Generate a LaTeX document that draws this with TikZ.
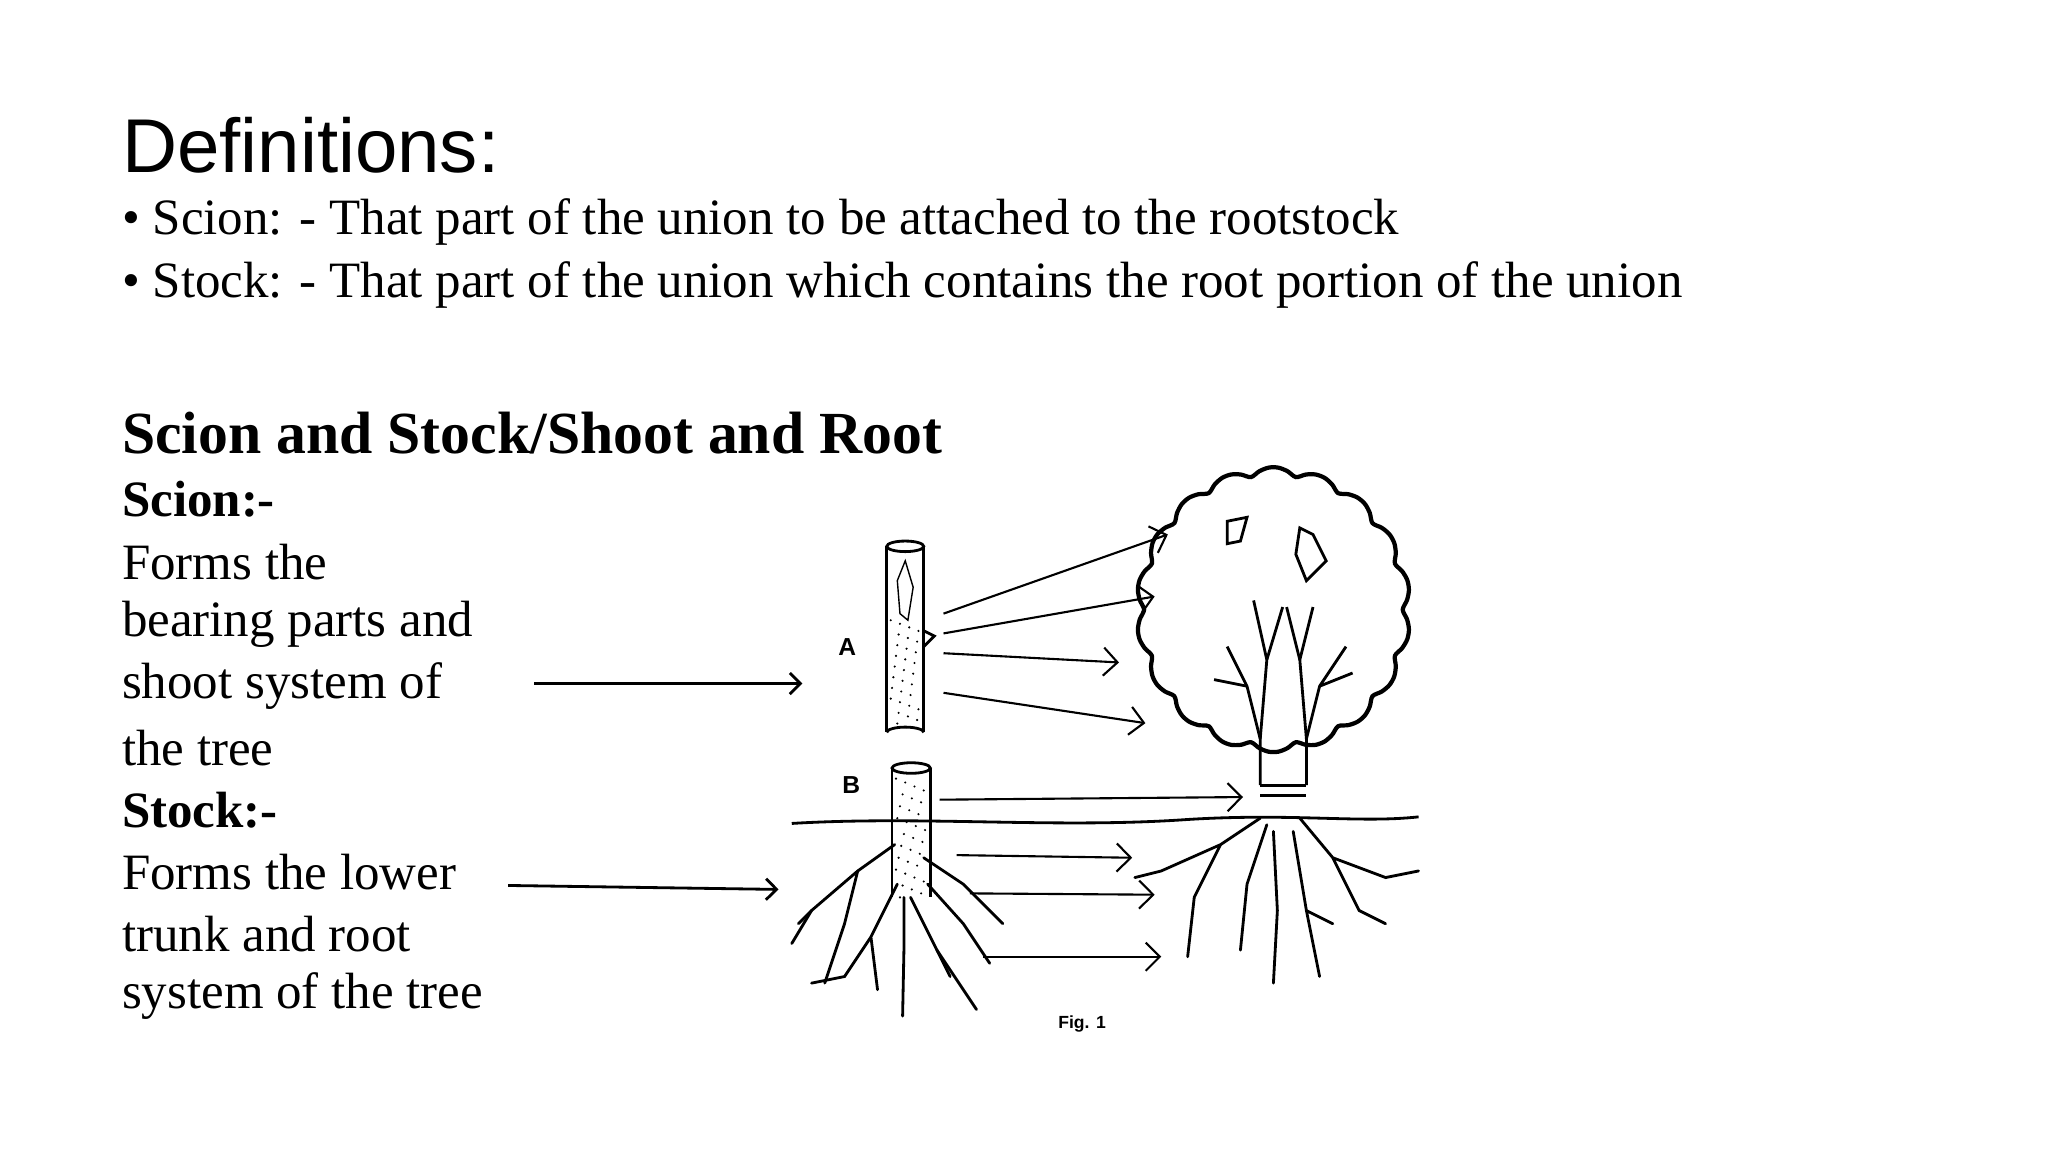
\documentclass[tikz,border=0pt]{standalone}
\usepackage{fontspec}
\setmainfont{Liberation Serif}
\newfontfamily\headfont{Liberation Sans}
\usetikzlibrary{positioning, arrows.meta}

\begin{document}
\begin{tikzpicture}[x=0.0132cm, y=-0.0132cm]
\tikzstyle{body}=[anchor=west, inner sep=0pt, font=\fontsize{14.5}{17}\selectfont]
\tikzstyle{connect}=[-{Straight Barb[length=3pt]}, thick]
\tikzstyle{thin}=[-{Straight Barb[length=4pt]}, semithick]
\tikzstyle{root}=[thick, line cap=round]
    \useasboundingbox (0,0) rectangle (1552,873);
    % text
    \node[anchor=west, inner sep=0pt, font=\headfont\fontsize{21.7}{25}\selectfont] (title) at (92,110) {Definitions:};
    \node[body] (def1) at (92,168) {\textbullet{} Scion: - That part of the union to be attached to the rootstock};
    \node[body] (def2) at (92,216) {\textbullet{} Stock: - That part of the union which contains the root portion of the union};
    \node[body, font=\bfseries\fontsize{17}{20}\selectfont] (head) at (92,328) {Scion and Stock/Shoot and Root};
    \node[body, font=\bfseries\fontsize{14.5}{17}\selectfont] (sc) at (92,378) {Scion:-};
    \node[body] (s1) at (92,426) {Forms the};
    \node[body] (s2) at (92,473) {bearing parts and};
    \node[body] (s3) at (92,520) {shoot system of};
    \node[body] (s4) at (92,567) {the tree};
    \node[body, font=\bfseries\fontsize{14.5}{17}\selectfont] (st) at (92,614) {Stock:-};
    \node[body] (t1) at (92,661) {Forms the lower};
    \node[body] (t2) at (92,708) {trunk and root};
    \node[body] (t3) at (92,755) {system of the tree};
    \coordinate (a1) at (405,518); \coordinate (a2) at (608,518);
    \coordinate (b1) at (385,671); \coordinate (b2) at (590,674);
    \draw[connect] (a1) -- (a2);
    \draw[connect] (b1) -- (b2);
    % scion and stock pieces
    \draw[thick] (672,414) -- (672,555) (700,414) -- (700,555);
    \draw[thick] (686,414) ellipse (14 and 4);
    \draw[thick] (672,555) arc (180:360:14 and 4);
    \draw[thick] (700,478) -- (708,482) -- (700,490);
    \draw (680,440) -- (686,425) -- (692,445) -- (688,470) -- (682,465) -- cycle;
    \foreach \i in {0,...,30} \fill ({675+mod(\i*7,22)},{470+\i*2.7}) circle (0.9);
    \draw[thick] (676,582) -- (676,680) (705,582) -- (705,680);
    \draw[thick] (690.5,582) ellipse (14.5 and 4);
    \foreach \i in {0,...,30} \fill ({679+mod(\i*7,23)},{590+\i*3}) circle (0.9);
    \node[font=\headfont\bfseries\scriptsize] (A) at (642,490) {A};
    \node[font=\headfont\bfseries\scriptsize] (B) at (645,595) {B};
    % ground
    \draw[thick] (600,624) .. controls (700,618) and (800,628) .. (900,621) .. controls (980,616) and (1030,624) .. (1075,619);
    % left roots
    \draw[root] (678,640) -- (650,660) -- (615,690) -- (600,715);
    \draw[root] (650,660) -- (640,700) -- (625,745) (615,690) -- (605,700);
    \draw[root] (680,670) -- (660,710) -- (640,740) -- (615,745) (660,710) -- (665,750);
    \draw[root] (685,680) -- (685,720) -- (684,770) (690,680) -- (710,720) -- (740,765);
    \draw[root] (700,650) -- (730,670) -- (760,700) (703,670) -- (730,700) -- (750,730) (710,720) -- (720,740);
    % tree crown
    \draw[very thick] plot[smooth cycle, samples=90, domain=0:356]
      ({965+(98+6*abs(sin(9*\x)))*cos(\x)}, {462+(102+6*abs(sin(9*\x)))*sin(\x)});
    \draw[thick] (930,395) -- (945,392) -- (940,410) -- (930,412) -- cycle;
    \draw[thick] (985,400) -- (995,405) -- (1005,425) -- (990,440) -- (982,420) -- cycle;
    % trunk and branches
    \draw[thick] (955,595) -- (955,560) -- (945,520) -- (930,490) (990,595) -- (990,560) -- (1000,520) -- (1020,490);
    \draw[thick] (955,560) -- (960,500) -- (950,455) (990,560) -- (985,500) -- (995,460);
    \draw[thick] (960,500) -- (972,460) (985,500) -- (975,460) (945,520) -- (920,515) (1000,520) -- (1025,510);
    \draw[thick] (955,595) -- (990,595) (955,603) -- (990,603);
    % tree roots
    \draw[root] (955,620) -- (925,640) -- (880,660) -- (860,665) (925,640) -- (905,680) -- (900,725);
    \draw[root] (960,625) -- (945,670) -- (940,720) (965,630) -- (968,690) -- (965,745);
    \draw[root] (985,620) -- (1010,650) -- (1050,665) -- (1075,660) (1010,650) -- (1030,690) -- (1050,700);
    \draw[root] (980,630) -- (990,690) -- (1000,740) (990,690) -- (1010,700);
    % arrows to the tree
    \coordinate (sa) at (715,465); \coordinate (ta) at (885,405);
    \coordinate (sb) at (715,480); \coordinate (tb) at (875,452);
    \coordinate (sc2) at (715,495); \coordinate (tc) at (848,502);
    \coordinate (sd) at (715,525); \coordinate (td) at (868,548);
    \coordinate (se) at (712,606); \coordinate (te) at (942,604);
    \coordinate (sf) at (725,648); \coordinate (tf) at (858,650);
    \coordinate (sg) at (735,677); \coordinate (tg) at (875,678);
    \coordinate (sh) at (745,725); \coordinate (th) at (880,725);
    \foreach \s/\t in {sa/ta, sb/tb, sc2/tc, sd/td, se/te, sf/tf, sg/tg, sh/th}
      \draw[thin] (\s) -- (\t);
    \node[font=\headfont\bfseries\tiny] (fig) at (820,776) {Fig. 1};
\end{tikzpicture}
\end{document}
